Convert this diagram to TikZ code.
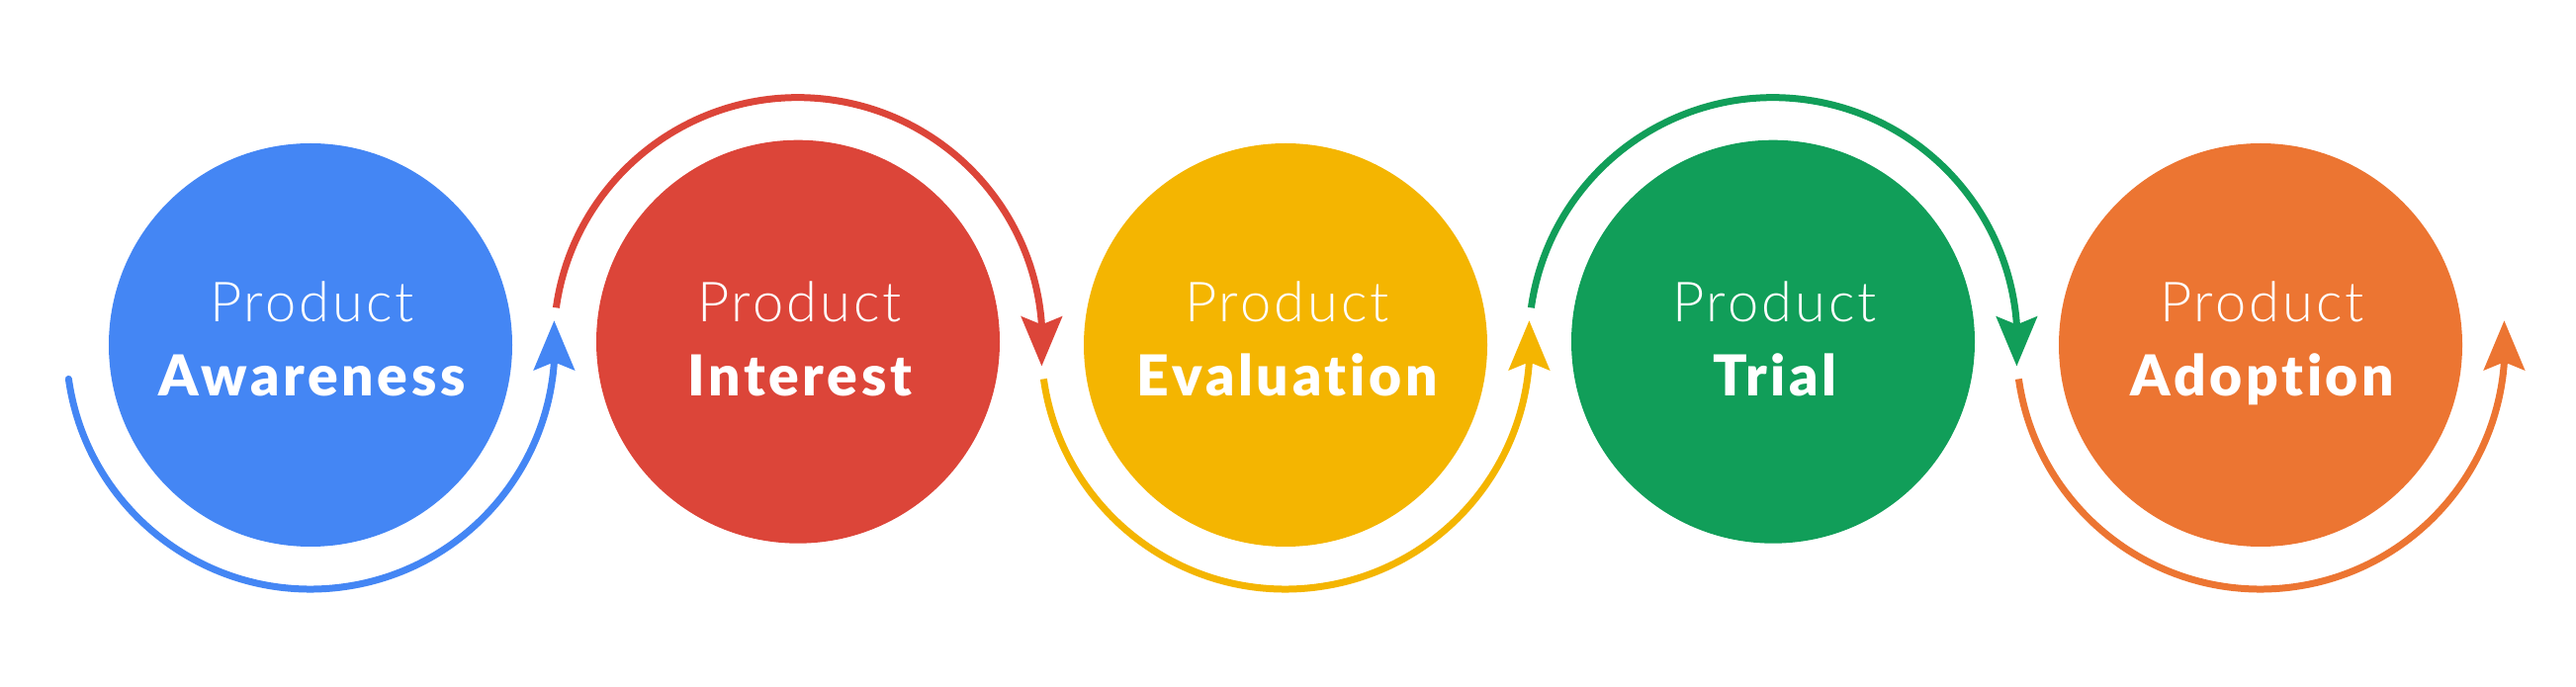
\documentclass[tikz,border=0pt]{standalone}
\usepackage{fontspec}
\setmainfont{Lato}
\newfontfamily\lightface{Lato Light}[LetterSpace=5.5,Ligatures={NoCommon}]
\newfontfamily\heavyface{Lato Black}[LetterSpace=6.5,Ligatures={NoCommon}]
\usetikzlibrary{arrows.meta}
\usetikzlibrary{calc}
\definecolor{awarecol}{HTML}{4486F4}
\definecolor{interestcol}{HTML}{DC4539}
\definecolor{evalcol}{HTML}{F4B501}
\definecolor{trialcol}{HTML}{119E59}
\definecolor{adoptcol}{HTML}{EC7532}
\tikzset{stage/.style={circle, minimum size=204bp, inner sep=0pt},
  toptext/.style={anchor=base, text=white, inner sep=0pt, xshift=0.8bp, font=\lightface\fontsize{28bp}{30bp}\selectfont},
  nametext/.style={anchor=base, text=white, inner sep=0pt, xshift=0.9bp, font=\heavyface\fontsize{28.5bp}{30bp}\selectfont},
  loop/.style={line width=3.5bp, -{Stealth[length=25bp,width=20.5bp,inset=4bp]}}}

\begin{document}
\begin{tikzpicture}[line join=miter]
  \useasboundingbox (0bp,0bp) rectangle (1302.5bp,347.5bp);
%%
  \node (awareness) at (157.0bp,173.0bp) [stage,fill=awarecol] {};
  \node (interest) at (403.5bp,174.65bp) [stage,fill=interestcol] {};
  \node (evaluation) at (650.0bp,173.0bp) [stage,fill=evalcol] {};
  \node (trial) at (896.5bp,174.65bp) [stage,fill=trialcol] {};
  \node (adoption) at (1143.0bp,173.0bp) [stage,fill=adoptcol] {};
%%
  \node (awareness_p) at (157.0bp,184.5bp) [toptext] {Product};
  \node (awareness_n) at (157.0bp,147.0bp) [nametext] {Awareness};
  \node (interest_p) at (403.5bp,184.5bp) [toptext] {Product};
  \node (interest_n) at (403.5bp,147.0bp) [nametext] {Interest};
  \node (evaluation_p) at (650.0bp,184.5bp) [toptext] {Product};
  \node (evaluation_n) at (650.0bp,147.0bp) [nametext] {Evaluation};
  \node (trial_p) at (896.5bp,184.5bp) [toptext] {Product};
  \node (trial_n) at (896.5bp,147.0bp) [nametext] {Trial};
  \node (adoption_p) at (1143.0bp,184.5bp) [toptext] {Product};
  \node (adoption_n) at (1143.0bp,147.0bp) [nametext] {Adoption};
%%
  \draw [loop,awarecol,line cap=round] ($(awareness.center)+(188:123.5bp)$) arc[start angle=188,end angle=356,radius=123.5bp] -- ++(0bp,21bp);
  \draw [loop,interestcol] ($(interest.center)+(172:123.5bp)$) arc[start angle=172,end angle=4,radius=123.5bp] -- ++(0bp,-21bp);
  \draw [loop,evalcol] ($(evaluation.center)+(188:123.5bp)$) arc[start angle=188,end angle=356,radius=123.5bp] -- ++(0bp,21bp);
  \draw [loop,trialcol] ($(trial.center)+(172:123.5bp)$) arc[start angle=172,end angle=4,radius=123.5bp] -- ++(0bp,-21bp);
  \draw [loop,adoptcol] ($(adoption.center)+(188:123.5bp)$) arc[start angle=188,end angle=356,radius=123.5bp] -- ++(0bp,21bp);
%
\end{tikzpicture}
\end{document}
